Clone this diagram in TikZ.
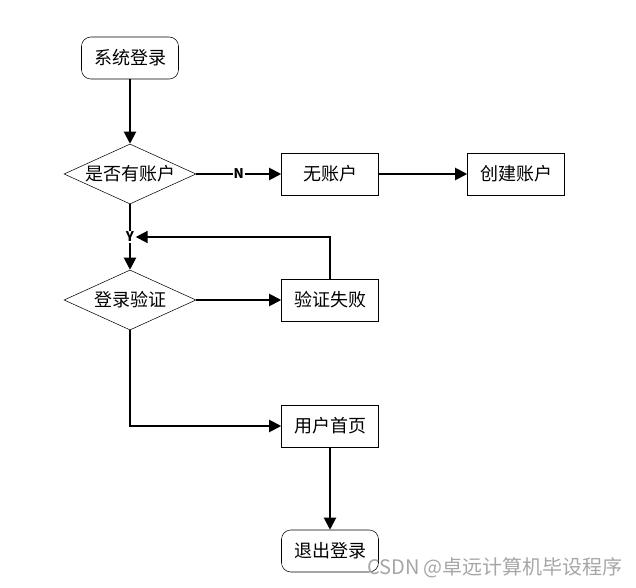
\documentclass[tikz,border=0pt]{standalone}
\usepackage{fontspec}
\newfontfamily\cjk{Noto Sans CJK SC}
\usetikzlibrary{arrows.meta,shapes.geometric}
\tikzset{%
  tipA/.tip={Triangle[length=9pt,width=9pt]},
  stepbox/.style={draw,thin,minimum width=72.75pt,minimum height=31.5pt,inner sep=0pt,font=\cjk\fontsize{13.5}{15}\selectfont},
  termbox/.style={stepbox,rounded corners=7pt},
  choice/.style={draw,thin,diamond,aspect=2.2,minimum width=99pt,minimum height=45pt,inner sep=0pt,font=\cjk\fontsize{13.5}{15}\selectfont},
  flow/.style={line width=1.5pt,-tipA},
  tag/.style={fill=white,inner sep=0.5pt,font=\cjk\bfseries\fontsize{10}{11}\selectfont}
}

\begin{document}
\begin{tikzpicture}[x=0.75pt,y=-0.75pt]
\useasboundingbox (0,0) rectangle (636,588);
\node[termbox] (login) at (130,58) {系统登录};
\node[choice] (hasacc) at (130,174) {是否有账户};
\node[stepbox] (noacc) at (330,174) {无账户};
\node[stepbox] (create) at (516,174) {创建账户};
\node[choice] (verify) at (130,300) {登录验证};
\node[stepbox] (fail) at (330,300) {验证失败};
\node[stepbox] (home) at (330,426) {用户首页};
\node[termbox] (logout) at (330,551) {退出登录};
\draw[flow] (login) -- (hasacc);
\draw[flow] (hasacc) -- node[tag] (nlab) {N} (noacc);
\draw[flow] (noacc) -- (create);
\draw[flow] (hasacc) -- node[tag] (ylab) {Y} (verify);
\draw[flow] (fail.north) |- (ylab.east);
\draw[flow] (verify) -- (fail);
\draw[flow] (verify.south) |- (home.west);
\draw[flow] (home) -- (logout);
\node[text=gray!70,font=\cjk\fontsize{15}{16}\selectfont] (mark) at (495,568) {CSDN @卓远计算机毕设程序};
\end{tikzpicture}
\end{document}
